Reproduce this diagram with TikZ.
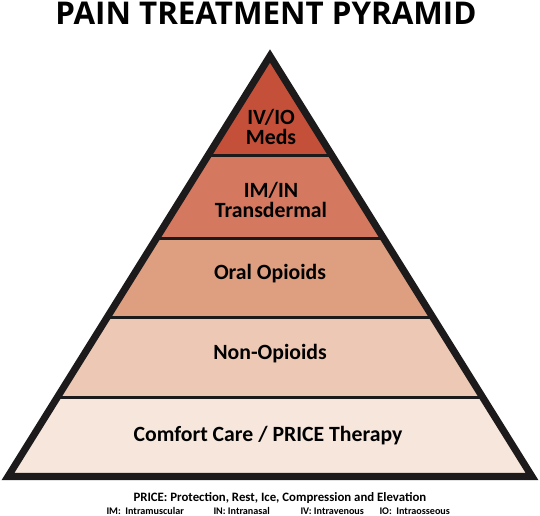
\documentclass[tikz,border=0pt]{standalone}
\usepackage{fontspec}
\setmainfont{Carlito}
\newfontfamily\titlefont{Open Sans}

\definecolor{bandA}{RGB}{196,80,58}
\definecolor{bandB}{RGB}{212,120,95}
\definecolor{bandC}{RGB}{222,158,128}
\definecolor{bandD}{RGB}{237,200,180}
\definecolor{bandE}{RGB}{246,230,220}
\definecolor{inkline}{RGB}{28,26,26}

\tikzset{every picture/.style={line width=0.75pt}}
\tikzset{
  outline/.style={draw=inkline,line width=5.3pt,line join=miter},
  divider/.style={draw=inkline,line width=2.6pt},
  bandlabel/.style={font=\bfseries\fontsize{16.3}{15.5}\selectfont,align=center,inner sep=0pt},
  notelabel/.style={font=\bfseries\fontsize{9.6}{11}\selectfont,inner sep=0pt,anchor=base west},
  abbrlabel/.style={font=\bfseries\fontsize{7.6}{9}\selectfont,inner sep=0pt,anchor=base west}
}

\begin{document}
\begin{tikzpicture}[x=0.75pt,y=0.75pt,yscale=-1,xscale=1]
\useasboundingbox (0,0) rectangle (540,516);

\coordinate (apex) at (270,56);
\coordinate (left) at (8,476.5);
\coordinate (right) at (532,476.5);

%Shape: Bands
\begin{scope}
\clip (apex) -- (left) -- (right) -- cycle;
\fill [bandA] (0,40) rectangle (540,155.5);
\fill [bandB] (0,155.5) rectangle (540,238.5);
\fill [bandC] (0,238.5) rectangle (540,317.5);
\fill [bandD] (0,317.5) rectangle (540,397.5);
\fill [bandE] (0,397.5) rectangle (540,480);
%Straight Lines
\draw [divider] (0,155.5) -- (540,155.5) ;
\draw [divider] (0,238.5) -- (540,238.5) ;
\draw [divider] (0,317.5) -- (540,317.5) ;
\draw [divider] (0,397.5) -- (540,397.5) ;
\end{scope}
%Shape: Triangle
\draw [outline] (apex) -- (left) -- (right) -- cycle ;

% Text Node
\draw (266,25) node (title) [anchor=base,inner sep=0pt,font=\titlefont\bfseries\fontsize{23.5}{28}\selectfont] {PAIN TREATMENT PYRAMID};
% Text Node
\draw (271,127) node (ivio) [bandlabel] {IV/IO\\Meds};
% Text Node
\draw (271,200) node (imin) [bandlabel] {IM/IN\\Transdermal};
% Text Node
\draw (270,274) node (oral) [bandlabel] {Oral Opioids};
% Text Node
\draw (270,354) node (nonop) [bandlabel] {Non-Opioids};
% Text Node
\draw (268,436) node (comfort) [bandlabel] {Comfort Care / PRICE Therapy};
% Text Node
\draw (133,502) node (price) [notelabel] {PRICE: Protection, Rest, Ice, Compression and Elevation};
% Text Node
\draw (106,514.5) node (im) [abbrlabel] {IM:\ \ Intramuscular};
% Text Node
\draw (213,514.5) node (in) [abbrlabel] {IN: Intranasal};
% Text Node
\draw (300,514.5) node (iv) [abbrlabel] {IV: Intravenous};
% Text Node
\draw (379,514.5) node (io) [abbrlabel] {IO:\ \ Intraosseous};

\end{tikzpicture}
\end{document}
